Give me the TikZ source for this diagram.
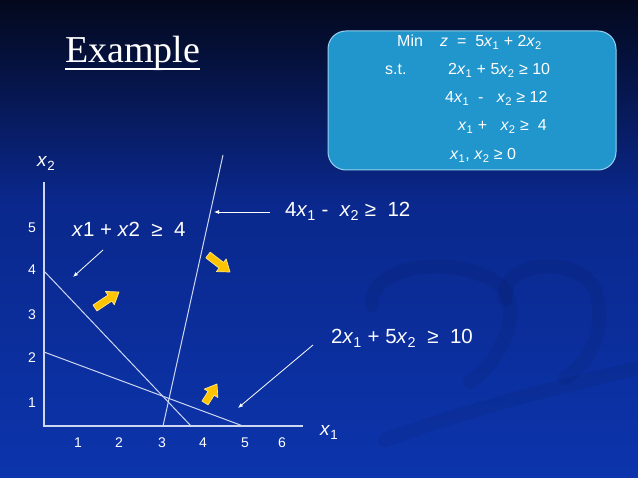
\documentclass[tikz,border=0pt]{standalone}
\usepackage{fontspec}
\setmainfont{Liberation Sans}
\newfontfamily\titlefont{Liberation Serif}
\usetikzlibrary{calc,arrows.meta}
\definecolor{bgtop}{RGB}{3,8,28}
\definecolor{bgmid}{RGB}{10,40,140}
\definecolor{bgbot}{RGB}{12,52,172}
\definecolor{boxfill}{RGB}{33,150,205}
\definecolor{boxedge}{RGB}{150,210,240}
\definecolor{axiscol}{RGB}{205,215,242}
\definecolor{arrowyellow}{RGB}{255,196,0}
\definecolor{arrowedge}{RGB}{255,232,140}
\newcommand\vx[1]{\textit{x}\textsubscript{#1}}
\newcommand\blockarrow[2]{%
  \coordinate (ba) at ($(#2)!11pt!(#1)$);
  \filldraw[fill=arrowyellow,draw=arrowedge,line width=0.7pt,line join=round]
    ($(#1)!3.6pt!90:(#2)$) -- ($(ba)!3.6pt!90:(#2)$) -- ($(ba)!8pt!90:(#2)$)
    -- (#2) -- ($(ba)!8pt!-90:(#2)$) -- ($(ba)!3.6pt!-90:(#2)$)
    -- ($(#1)!3.6pt!-90:(#2)$) -- cycle;}
\begin{document}
\begin{tikzpicture}[x=1pt,y=-1pt,
  boxtext/.style={anchor=base west,text=white,inner sep=0pt,font=\fontsize{16}{18}\selectfont},
  graphtext/.style={anchor=base west,text=white,inner sep=0pt,font=\fontsize{20.5}{22}\selectfont},
  ticktext/.style={anchor=base,text=white,inner sep=0pt,font=\fontsize{14}{16}\selectfont},
  axisline/.style={draw=axiscol,line width=1.1pt},
  consline/.style={draw=axiscol,line width=1pt},
  pointer/.style={draw=white,line width=0.8pt,-{Latex[length=5pt,width=4pt]}},
  swoosh/.style={draw=black,opacity=0.06,line width=14pt,line cap=round}]
\useasboundingbox (0,0) rectangle (638,478);
\shade[top color=bgtop,bottom color=bgmid] (0,0) rectangle (638,200);
\shade[top color=bgmid,bottom color=bgbot] (0,199.5) rectangle (638,478);
% faint background swoosh
\draw[swoosh] (372,305) .. controls (368,262) and (470,252) .. (505,290) .. controls (520,320) and (500,360) .. (470,382);
\draw[swoosh] (505,300) .. controls (500,258) and (582,255) .. (596,292) .. controls (606,330) and (592,360) .. (565,378);
\draw[swoosh] (385,440) .. controls (480,405) and (580,382) .. (638,368);
% title
\node[anchor=base west,text=white,inner sep=0pt,font=\titlefont\fontsize{38}{40}\selectfont] (title) at (65,63) {Example};
\draw[white,line width=1.8pt] ($(title.base west)+(0,6)$) -- ($(title.base east)+(0,6)$);
% model box
\node[draw=boxedge,fill=boxfill,rounded corners=18pt,minimum width=288pt,minimum height=139pt,line width=1pt] (box) at (472,100.5) {};
\node[boxtext] (min) at (397,47) {Min};
\node[boxtext] (obj) at (440,47) {\textit{z}\ \ =\ \ 5\vx{1} + 2\vx{2}};
\node[boxtext] (st) at (385,75) {s.t.};
\node[boxtext] (c1) at (448,75) {2\vx{1} + 5\vx{2} ≥ 10};
\node[boxtext] (c2) at (445,103) {4\vx{1}\ \ -\ \ \ \vx{2} ≥ 12};
\node[boxtext] (c3) at (458,131) {\vx{1} +\ \ \ \vx{2} ≥\ \ 4};
\node[boxtext] (c4) at (450,160) {\vx{1}, \vx{2} ≥ 0};
% axes
\coordinate (O) at (44,426);
\coordinate (ytop) at (44,182);
\coordinate (xend) at (303,426);
\draw[axisline] (ytop) -- (O) -- (xend);
\node[anchor=base west,text=white,inner sep=0pt,font=\fontsize{19}{21}\selectfont] (xlab) at (320,436) {\vx{1}};
\node[anchor=base west,text=white,inner sep=0pt,font=\fontsize{19}{21}\selectfont] (ylab) at (37,167) {\vx{2}};
% ticks
\foreach \n/\px in {1/78,2/119,3/162,4/203,5/245,6/282}
  \node[ticktext] (xt\n) at (\px,448) {\n};
\foreach \n/\py in {1/408,2/363,3/320,4/275,5/233}
  \node[ticktext] (yt\n) at (32,\py) {\n};
% constraint lines
\coordinate (a1) at (44,271);
\coordinate (a2) at (191,426);
\coordinate (b1) at (44,352);
\coordinate (b2) at (243,426);
\coordinate (d1) at (163,426);
\coordinate (d2) at (223,155);
\draw[consline] (a1) -- (a2);
\draw[consline] (b1) -- (b2);
\draw[consline] (d1) -- (d2);
% labels and pointers
\node[graphtext] (l1) at (72,237) {\textit{x}1 + \textit{x}2\ \ ≥\ \ 4};
\coordinate (p1s) at (103,250);
\coordinate (p1e) at (73,277);
\draw[pointer] (p1s) -- (p1e);
\node[graphtext] (l2) at (285,217) {4\vx{1} -\ \ \vx{2} ≥\ \ 12};
\coordinate (p2s) at (270,212);
\coordinate (p2e) at (214,212);
\draw[pointer] (p2s) -- (p2e);
\node[graphtext] (l3) at (331,344) {2\vx{1} + 5\vx{2}\ \ ≥\ \ 10};
\coordinate (p3s) at (313,345);
\coordinate (p3e) at (238,408);
\draw[pointer] (p3s) -- (p3e);
% yellow direction arrows
\coordinate (y1t) at (95,308); \coordinate (y1h) at (119,292);
\coordinate (y2t) at (208,255); \coordinate (y2h) at (230,272);
\coordinate (y3t) at (205,403); \coordinate (y3h) at (217,384);
\blockarrow{y1t}{y1h}
\blockarrow{y2t}{y2h}
\blockarrow{y3t}{y3h}
\end{tikzpicture}
\end{document}
